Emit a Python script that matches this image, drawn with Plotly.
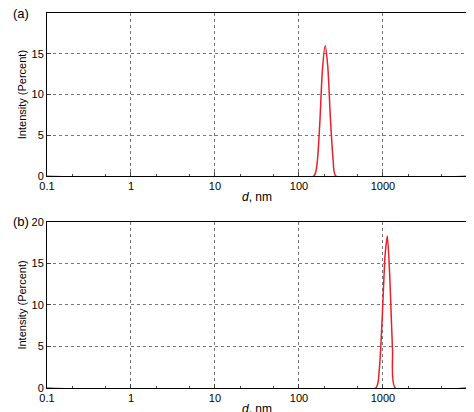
import plotly.graph_objects as go
from plotly.subplots import make_subplots

d_a = [0.1, 150, 164, 177, 190, 205, 220, 237, 255, 275, 10000]
i_a = [0, 0, 1.5, 6.5, 13, 16, 13.5, 7, 2, 0, 0]
d_b = [0.1, 820, 900, 980, 1060, 1130, 1210, 1300, 1400, 10000]
i_b = [0, 0, 2, 8.5, 16, 18.3, 13, 4.5, 0, 0]
xticks = [0.1, 1, 10, 100, 1000, 10000]
xtext = ["0.1", "1", "10", "100", "1000", "10000"]
yticks = [0, 5, 10, 15, 20]

fig = make_subplots(rows=2, cols=1)
fig.add_trace(go.Scatter(x=d_a, y=i_a, mode="lines", line=dict(color="#e8202a", width=1.5, shape="spline", smoothing=0.6)), 1, 1)
fig.add_trace(go.Scatter(x=d_b, y=i_b, mode="lines", line=dict(color="#e8202a", width=1.5, shape="spline", smoothing=0.6)), 2, 1)

ax = dict(type="log", range=[-1, 4.0005], tickvals=xticks, ticktext=xtext, showline=True, mirror=True,
          linecolor="black", linewidth=1, ticks="inside", ticklen=4, showgrid=True, gridcolor="#777",
          griddash="dot", zeroline=False, minor=dict(ticks="inside", ticklen=2, showgrid=False),
          automargin=False,
          tickfont=dict(size=11, color="black"), title=dict(text="<i>d</i>, nm", font=dict(size=12), standoff=1))
ay = dict(range=[0, 20], tickvals=yticks, showline=True, mirror=True, linecolor="black", linewidth=1,
          ticks="inside", ticklen=4, showgrid=True, gridcolor="#777", griddash="dot", zeroline=False,
          automargin=False,
          tickfont=dict(size=11, color="black"), title=dict(text="Intensity (Percent)", font=dict(size=11), standoff=2))
fig.update_layout(
    width=474, height=412, margin=dict(l=39, r=15, t=5, b=32), showlegend=False,
    plot_bgcolor="white", paper_bgcolor="white", font=dict(family="Liberation Sans, Arial", color="black"),
    xaxis=dict(ax, domain=[0, 1]), xaxis2=dict(ax, domain=[0, 1]),
    yaxis=dict(ay, domain=[0.565, 1]), yaxis2=dict(ay, domain=[0, 0.443]),
    annotations=[
        dict(text="(a)", x=-0.085, y=1.0, xref="paper", yref="paper", showarrow=False, xanchor="left", yanchor="middle", font=dict(size=13)),
        dict(text="(b)", x=-0.085, y=0.443, xref="paper", yref="paper", showarrow=False, xanchor="left", yanchor="middle", font=dict(size=13)),
    ],
)
fig.write_html("out.html")
